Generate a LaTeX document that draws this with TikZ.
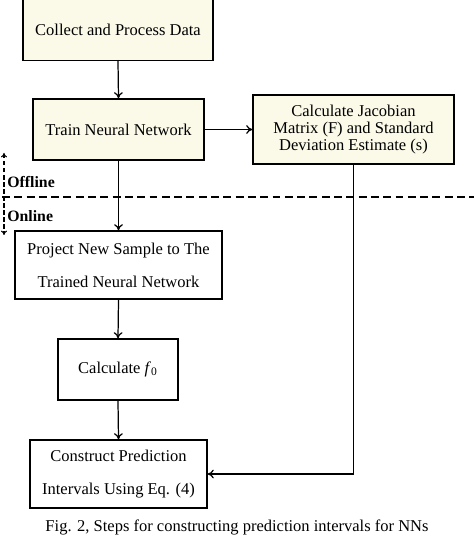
\documentclass[tikz,border=0pt]{standalone}
\usepackage{fontspec}
\setmainfont{Liberation Serif}
\usetikzlibrary{arrows.meta}
\definecolor{cream}{RGB}{251,249,232}
\begin{document}
\begin{tikzpicture}[
    x=0.02cm, y=-0.02cm,
    box/.style ={
        draw=black,
        line width=0.75pt,
        inner sep=0pt,
        align=center,
        font=\fontsize{9.4}{9.6}\selectfont
    },
    offl/.style ={
        box,
        fill=cream
    },
    conn/.style ={
        line width=0.7pt,
        -{To[length=3.5pt,width=5pt]}
    },
    tag/.style ={
        anchor=west,
        inner sep=0pt,
        font=\fontsize{9}{9}\selectfont\bfseries
    }
    ]
    \useasboundingbox (0,0) rectangle (474,536);

    \node[offl, minimum width=3.8cm, minimum height=1.22cm] (collect) at (118,30) {Collect and Process Data};
    \node[offl, minimum width=3.42cm, minimum height=1.22cm] (train) at (118.5,129.5) {Train Neural Network};
    \node[offl, minimum width=4.02cm, minimum height=1.38cm] (jacob) at (353.5,129.5)
        {Calculate Jacobian\\Matrix (F) and Standard\\Deviation Estimate (s)};
    \node[box, minimum width=4.14cm, minimum height=1.36cm] (project) at (118.5,265)
        {Project New Sample to The\\[9.2pt]Trained Neural Network};
    \node[box, minimum width=2.4cm, minimum height=1.22cm] (calc) at (118,369.5)
        {Calculate \textit{f}\textsubscript{0}};
    \node[box, minimum width=3.54cm, minimum height=1.36cm] (construct) at (118.5,474)
        {Construct Prediction\\[9.2pt]Intervals Using Eq. (4)};

    \foreach \src/ \dst in {collect/train, train/project, project/calc, calc/construct}
        \draw[conn] (\src.south) -- (\dst.north);
    \draw[conn] (train) -- (jacob);
    \draw[conn] (jacob.south) |- (construct.east);

    % offline / online split
    \coordinate (up) at (4,153);
    \coordinate (down) at (4,235);
    \coordinate (lft) at (2,197);
    \coordinate (rgt) at (474,197);
    \draw[line width=0.7pt, dash pattern=on 4.5pt off 2.5pt] (lft) -- (rgt);
    \draw[line width=0.6pt, dash pattern=on 2.5pt off 1.5pt, {To[length=2.5pt,width=3.5pt]}-{To[length=2.5pt,width=3.5pt]}] (up) -- (down);
    \node[tag] (offline) at (7,182) {Offline};
    \node[tag] (online) at (7,216) {Online};

    \node[font=\fontsize{9.4}{9.6}\selectfont] (caption) at (237,527)
        {Fig. 2, Steps for constructing prediction intervals for NNs};
\end{tikzpicture}
\end{document}
